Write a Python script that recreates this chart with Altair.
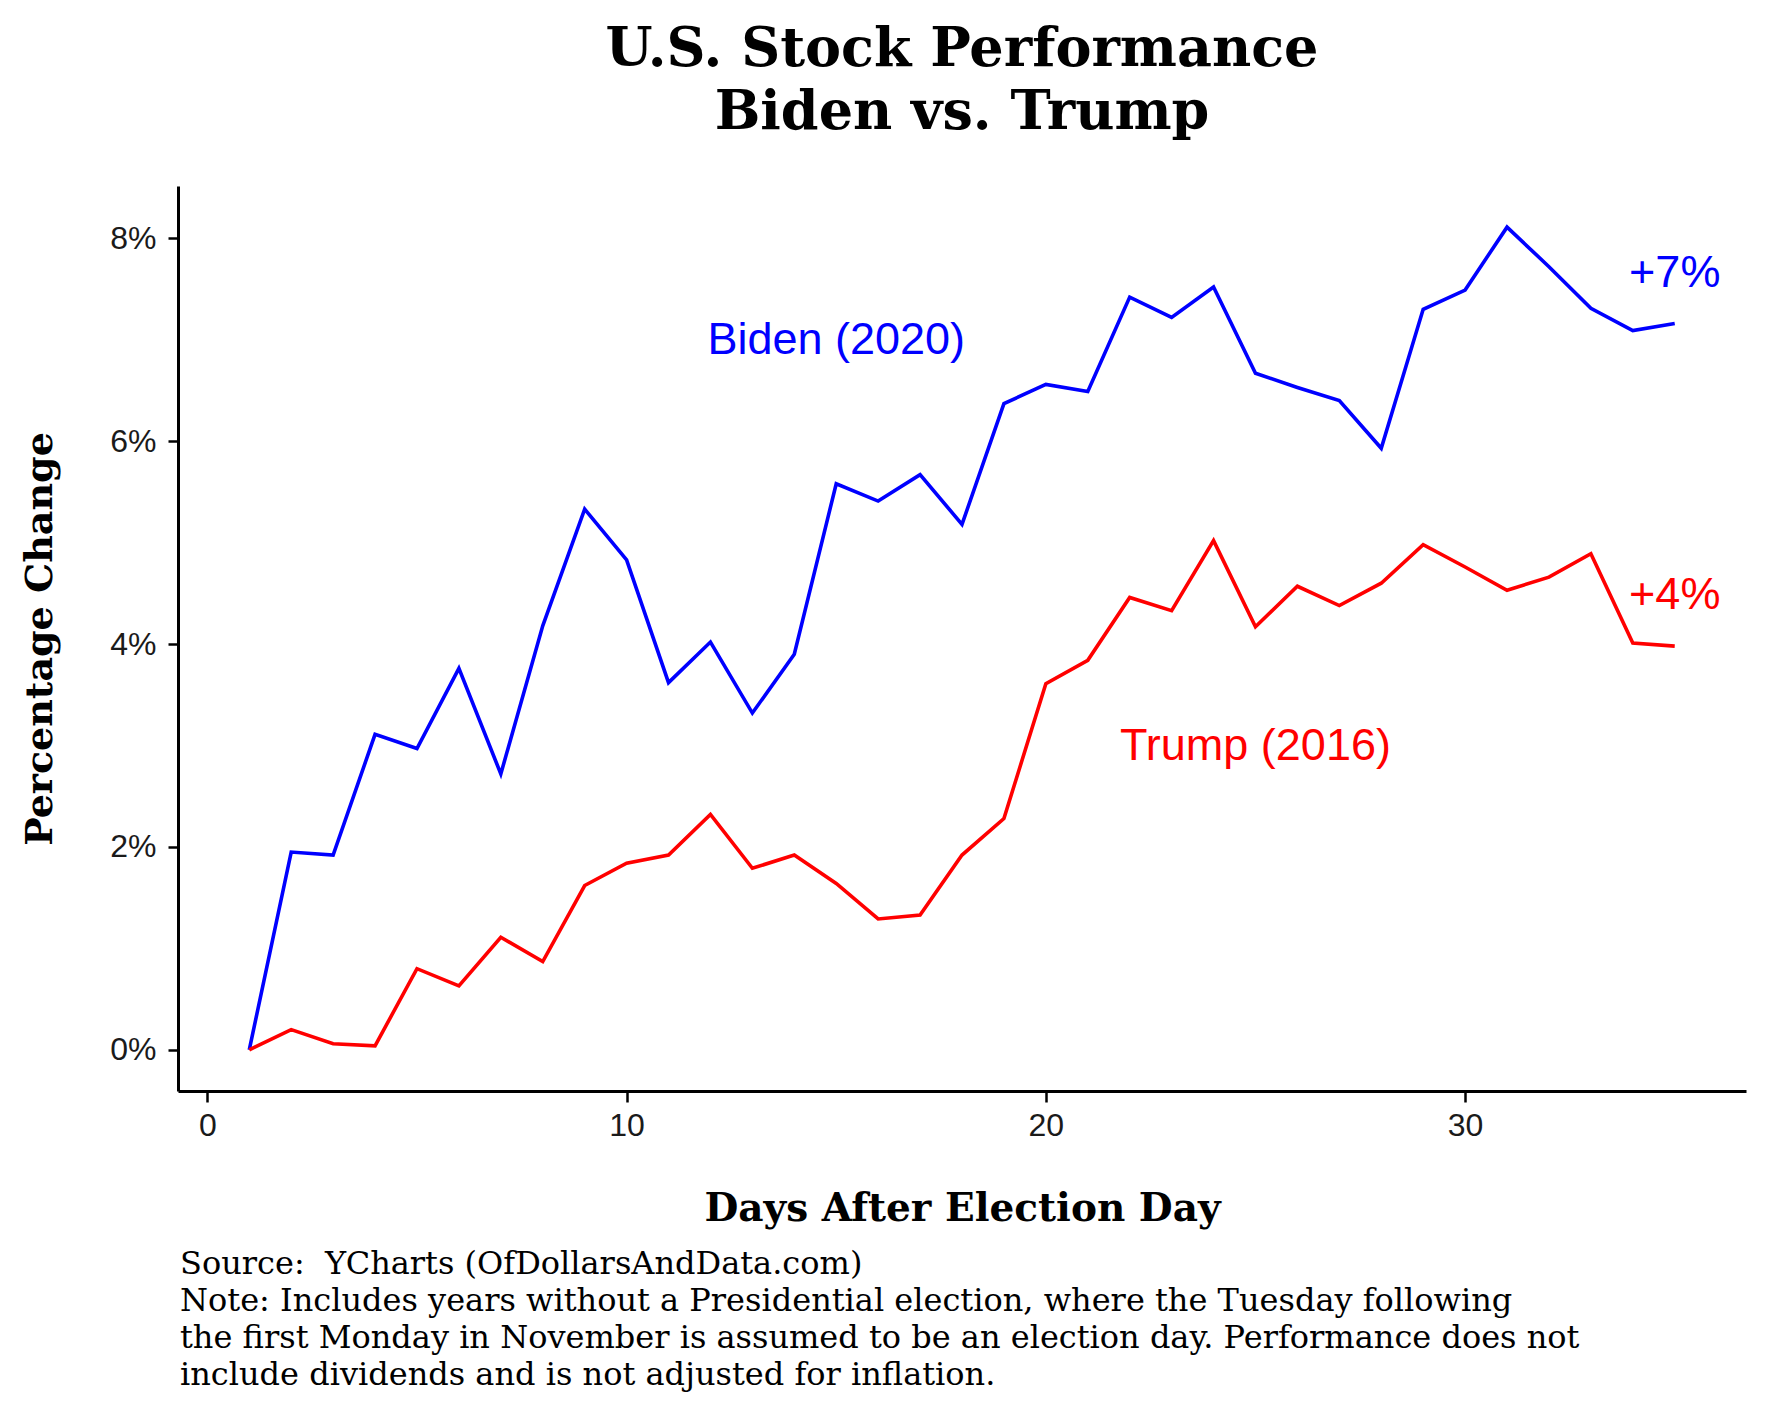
import altair as alt
import pandas as pd

# Cumulative % change in U.S. stocks, days 1-35 after election day
days = list(range(1, 36))
biden_2020 = [0.00, 1.95, 1.92, 3.11, 2.97, 3.76, 2.72, 4.18, 5.33, 4.83,
              3.62, 4.02, 3.32, 3.90, 5.58, 5.41, 5.67, 5.18, 6.37, 6.56,
              6.49, 7.42, 7.22, 7.52, 6.67, 6.53, 6.40, 5.93, 7.30, 7.49,
              8.11, 7.72, 7.31, 7.09, 7.16]
trump_2016 = [0.00, 0.20, 0.06, 0.04, 0.80, 0.63, 1.11, 0.87, 1.62, 1.84,
              1.92, 2.32, 1.79, 1.92, 1.64, 1.29, 1.33, 1.92, 2.28, 3.61,
              3.84, 4.46, 4.33, 5.02, 4.17, 4.57, 4.38, 4.60, 4.98, 4.76,
              4.53, 4.66, 4.89, 4.01, 3.98]

series_names = ["Biden (2020)", "Trump (2016)"]
series_colors = ["#0000FF", "#FF0000"]

# Series name labels and end-of-period labels
label_text = ["Biden (2020)", "Trump (2016)", "+7%", "+4%"]
label_series = ["Biden (2020)", "Trump (2016)", "Biden (2020)", "Trump (2016)"]
label_day = [15, 25, 35, 35]
label_value = [7.0, 3.0, 7.66, 4.48]

y_ticks = [0, 2, 4, 6, 8]
x_ticks = [0, 10, 20, 30]

caption = ("Source:\u00a0 YCharts (OfDollarsAndData.com)\n"
           "Note: Includes years without a Presidential election, where the Tuesday following\n"
           "the first Monday in November is assumed to be an election day. Performance does not\n"
           "include dividends and is not adjusted for inflation.")

lines_df = pd.DataFrame({
    "day": days * 2,
    "pct": biden_2020 + trump_2016,
    "series": [series_names[0]] * len(days) + [series_names[1]] * len(days),
})
labels_df = pd.DataFrame({
    "day": label_day, "pct": label_value,
    "label": label_text, "series": label_series,
})

W, H = 1568, 905
serif = "DejaVu Serif"
sans = "Liberation Sans"

x_scale = alt.Scale(domain=[-0.7, 36.7], nice=False, zero=False)
y_scale = alt.Scale(domain=[-0.4055, 8.5155], nice=False, zero=False)
color_scale = alt.Scale(domain=series_names, range=series_colors)

x_axis = alt.Axis(
    values=x_ticks, title="Days After Election Day", grid=False,
    domainColor="black", domainWidth=3, tickColor="black", tickWidth=2.5,
    tickSize=11, labelFont=sans, labelFontSize=32, labelColor="#1a1a1a",
    labelPadding=8, titleFont=serif, titleFontWeight="bold", titleFontSize=39,
    titleColor="black", titleX=W / 2, titleY=129, titleBaseline="alphabetic",
    titleAlign="center",
)
y_axis = alt.Axis(
    values=y_ticks, title="Percentage Change", grid=False,
    labelExpr="datum.value + '%'",
    domainColor="black", domainWidth=3, tickColor="black", tickWidth=2.5,
    tickSize=10, labelFont=sans, labelFontSize=32, labelColor="#1a1a1a",
    labelPadding=12, titleFont=serif, titleFontWeight="bold", titleFontSize=38,
    titleColor="black", titleX=-138, titleY=H / 2, titleAngle=-90,
    titleBaseline="middle", titleAlign="center",
)

lines = alt.Chart(lines_df).mark_line(strokeWidth=3.6).encode(
    x=alt.X("day:Q", scale=x_scale, axis=x_axis),
    y=alt.Y("pct:Q", scale=y_scale, axis=y_axis),
    color=alt.Color("series:N", scale=color_scale, legend=None),
)

labels = alt.Chart(labels_df).mark_text(
    font=sans, fontSize=45, align="center", baseline="middle"
).encode(
    x=alt.X("day:Q", scale=x_scale),
    y=alt.Y("pct:Q", scale=y_scale),
    text="label:N",
    color=alt.Color("series:N", scale=color_scale, legend=None),
)

caption_mark = alt.Chart(pd.DataFrame({"t": [caption]})).mark_text(
    font=serif, fontSize=32, align="left", baseline="alphabetic",
    lineBreak="\n", lineHeight=37, color="black",
).encode(
    text="t:N", x=alt.value(2), y=alt.value(1088),
)

chart = alt.layer(lines, labels, caption_mark).properties(
    width=W, height=H,
    autosize=alt.AutoSizeParams(type="none"),
    padding={"left": 178, "top": 186, "right": 25, "bottom": 326},
    title=alt.TitleParams(
        text=["U.S. Stock Performance", "Biden vs. Trump"],
        font=serif, fontWeight="bold", fontSize=54, lineHeight=63,
        color="black", anchor="middle", offset=46,
    ),
).configure(background="white").configure_view(stroke=None, strokeWidth=0)

chart.save("out.html", embed_options={"renderer": "svg", "actions": False})
